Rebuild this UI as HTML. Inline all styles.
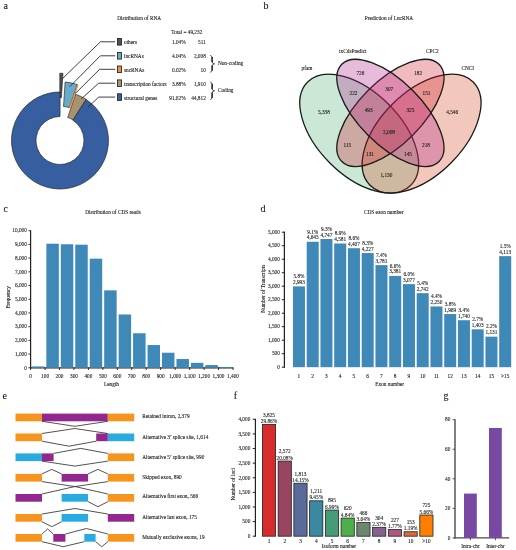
<!DOCTYPE html>
<html><head><meta charset="utf-8"><style>
html,body{margin:0;padding:0;background:#fff;}
svg{display:block;filter:blur(0.2px);}
text{font-family:"Liberation Serif", serif; fill:#1a1a1a; stroke:#1a1a1a; stroke-width:0.1px;}
</style></head><body>
<svg width="516" height="550" viewBox="0 0 516 550">
<rect width="516" height="550" fill="#fff"/>
<text x="3.50" y="8.70" font-size="10" text-anchor="start" >a</text>
<text x="117.30" y="20.25" font-size="5.3" text-anchor="start" >Distribution of RNA</text>
<text x="171.30" y="34.35" font-size="5.3" text-anchor="start" >Total = 49,232</text>
<path d="M59.81,73.21 A48.5,48.5 0 0 1 62.97,73.31 L61.38,97.76 A24.0,24.0 0 0 0 59.81,97.71 Z" fill="#4d5158" stroke="#222" stroke-width="0.65" />
<path d="M65.12,82.09 A48.5,48.5 0 0 1 77.28,84.47 L69.54,107.72 A24.0,24.0 0 0 0 63.52,106.54 Z" fill="#68aac8" stroke="#222" stroke-width="0.65" />
<path d="M75.51,94.23 A48.5,48.5 0 0 1 86.16,99.31 L73.01,119.98 A24.0,24.0 0 0 0 67.74,117.47 Z" fill="#a8926f" stroke="#222" stroke-width="0.65" />
<path d="M86.03,99.58 A48.5,48.5 0 1 1 60.12,92.00 L60.06,116.50 A24.0,24.0 0 1 0 72.88,120.25 Z" fill="#375f9f" stroke="#222" stroke-width="0.65" />
<line x1="78.07" y1="84.53" x2="69.83" y2="108.03" stroke="#f08a3c" stroke-width="1.3"/>
<line x1="100.40" y1="41.80" x2="115.20" y2="41.80" stroke="#2a2a2a" stroke-width="0.9"/>
<line x1="100.40" y1="41.80" x2="62.00" y2="79.10" stroke="#2a2a2a" stroke-width="0.9"/>
<rect x="117.50" y="38.50" width="4.00" height="6.60" fill="#4d5158" stroke="#222" stroke-width="0.85"/>
<line x1="100.40" y1="55.80" x2="115.20" y2="55.80" stroke="#2a2a2a" stroke-width="0.9"/>
<line x1="100.40" y1="55.80" x2="69.80" y2="86.60" stroke="#2a2a2a" stroke-width="0.9"/>
<rect x="117.50" y="52.50" width="4.00" height="6.60" fill="#68aac8" stroke="#222" stroke-width="0.85"/>
<line x1="99.60" y1="69.30" x2="115.20" y2="69.30" stroke="#2a2a2a" stroke-width="0.9"/>
<line x1="99.60" y1="69.30" x2="75.20" y2="93.60" stroke="#2a2a2a" stroke-width="0.9"/>
<rect x="117.50" y="66.00" width="4.00" height="6.60" fill="#f08a3c" stroke="#222" stroke-width="0.85"/>
<line x1="98.70" y1="83.20" x2="115.20" y2="83.20" stroke="#2a2a2a" stroke-width="0.9"/>
<line x1="98.70" y1="83.20" x2="81.40" y2="98.80" stroke="#2a2a2a" stroke-width="0.9"/>
<rect x="117.50" y="79.90" width="4.00" height="6.60" fill="#a8926f" stroke="#222" stroke-width="0.85"/>
<line x1="98.70" y1="97.10" x2="115.20" y2="97.10" stroke="#2a2a2a" stroke-width="0.9"/>
<line x1="98.70" y1="97.10" x2="88.20" y2="107.00" stroke="#2a2a2a" stroke-width="0.9"/>
<rect x="117.50" y="93.80" width="4.00" height="6.60" fill="#375f9f" stroke="#222" stroke-width="0.85"/>
<text x="124.00" y="44.35" font-size="5.3" text-anchor="start" >others</text>
<text x="185.60" y="44.25" font-size="5.3" text-anchor="end" >1.04%</text>
<text x="205.80" y="44.25" font-size="5.3" text-anchor="end" >511</text>
<text x="124.00" y="58.35" font-size="5.3" text-anchor="start" >lncRNAs</text>
<text x="185.60" y="58.25" font-size="5.3" text-anchor="end" >4.04%</text>
<text x="205.80" y="58.25" font-size="5.3" text-anchor="end" >2,008</text>
<text x="124.00" y="71.85" font-size="5.3" text-anchor="start" >sncRNAs</text>
<text x="185.60" y="71.75" font-size="5.3" text-anchor="end" >0.02%</text>
<text x="205.80" y="71.75" font-size="5.3" text-anchor="end" >10</text>
<text x="124.00" y="85.75" font-size="5.3" text-anchor="start" >transcription factors</text>
<text x="185.60" y="85.65" font-size="5.3" text-anchor="end" >3.88%</text>
<text x="205.80" y="85.65" font-size="5.3" text-anchor="end" >1,910</text>
<text x="124.00" y="99.65" font-size="5.3" text-anchor="start" >structural genes</text>
<text x="185.60" y="99.55" font-size="5.3" text-anchor="end" >91.02%</text>
<text x="205.80" y="99.55" font-size="5.3" text-anchor="end" >44,812</text>
<path d="M210.20,55.40 Q212.10,55.40 212.10,58.00 L212.10,61.65 Q212.10,63.65 214.60,63.85 Q212.10,64.05 212.10,66.05 L212.10,69.70 Q212.10,72.30 210.20,72.30" fill="none" stroke="#1a1a1a" stroke-width="0.7" />
<path d="M212.10,57.00 L212.10,62.25 M212.10,65.45 L212.10,70.70" fill="none" stroke="#1a1a1a" stroke-width="1.3" />
<path d="M210.20,82.10 Q212.10,82.10 212.10,84.70 L212.10,88.65 Q212.10,90.65 214.60,90.85 Q212.10,91.05 212.10,93.05 L212.10,97.00 Q212.10,99.60 210.20,99.60" fill="none" stroke="#1a1a1a" stroke-width="0.7" />
<path d="M212.10,83.70 L212.10,89.25 M212.10,92.45 L212.10,98.00" fill="none" stroke="#1a1a1a" stroke-width="1.3" />
<text x="217.90" y="65.35" font-size="5.3" text-anchor="start" >Non-coding</text>
<text x="217.90" y="92.15" font-size="5.3" text-anchor="start" >Coding</text>
<text x="263.40" y="8.50" font-size="10" text-anchor="start" >b</text>
<text x="389.00" y="19.55" font-size="5.3" text-anchor="middle" >Prediction of LncRNA</text>
<ellipse cx="359.20" cy="133.60" rx="72.95" ry="41.50" transform="rotate(45 359.20 133.60)" fill="rgb(80,177,120)" fill-opacity="0.297" stroke="#1a1a1a" stroke-width="1.3"/>
<ellipse cx="421.60" cy="133.60" rx="72.95" ry="41.50" transform="rotate(-45 421.60 133.60)" fill="rgb(216,71,30)" fill-opacity="0.297" stroke="#1a1a1a" stroke-width="1.3"/>
<ellipse cx="390.40" cy="112.90" rx="68.75" ry="31.60" transform="rotate(-45 390.40 112.90)" fill="rgb(208,25,41)" fill-opacity="0.297" stroke="#1a1a1a" stroke-width="1.3"/>
<ellipse cx="390.40" cy="112.90" rx="68.75" ry="31.60" transform="rotate(45 390.40 112.90)" fill="rgb(173,29,135)" fill-opacity="0.297" stroke="#1a1a1a" stroke-width="1.3"/>
<text x="307.00" y="69.95" font-size="5.3" text-anchor="middle" >pfam</text>
<text x="352.80" y="52.95" font-size="5.3" text-anchor="middle" >txCdsPredict</text>
<text x="432.40" y="52.95" font-size="5.3" text-anchor="middle" >CPC2</text>
<text x="467.80" y="69.95" font-size="5.3" text-anchor="middle" >CNCI</text>
<text x="360.40" y="75.10" font-size="5.3" text-anchor="middle" >726</text>
<text x="418.20" y="75.10" font-size="5.3" text-anchor="middle" >182</text>
<text x="353.50" y="95.20" font-size="5.3" text-anchor="middle" >222</text>
<text x="389.30" y="91.20" font-size="5.3" text-anchor="middle" >307</text>
<text x="426.50" y="95.20" font-size="5.3" text-anchor="middle" >151</text>
<text x="323.90" y="114.20" font-size="5.3" text-anchor="middle" >5,338</text>
<text x="368.70" y="112.20" font-size="5.3" text-anchor="middle" >493</text>
<text x="410.40" y="112.20" font-size="5.3" text-anchor="middle" >325</text>
<text x="452.20" y="114.20" font-size="5.3" text-anchor="middle" >4,546</text>
<text x="389.00" y="134.30" font-size="5.3" text-anchor="middle" >2,008</text>
<text x="347.40" y="146.90" font-size="5.3" text-anchor="middle" >115</text>
<text x="426.00" y="146.90" font-size="5.3" text-anchor="middle" >218</text>
<text x="370.00" y="155.90" font-size="5.3" text-anchor="middle" >131</text>
<text x="408.00" y="155.90" font-size="5.3" text-anchor="middle" >145</text>
<text x="386.40" y="176.70" font-size="5.3" text-anchor="middle" >1,130</text>
<text x="3.60" y="211.80" font-size="10" text-anchor="start" >c</text>
<text x="113.00" y="213.95" font-size="5.3" text-anchor="middle" >Distribution of CDS reads</text>
<line x1="30.60" y1="230.20" x2="30.60" y2="368.40" stroke="#222" stroke-width="1.2"/>
<line x1="30.00" y1="367.80" x2="233.40" y2="367.80" stroke="#222" stroke-width="1.2"/>
<line x1="28.40" y1="367.80" x2="30.60" y2="367.80" stroke="#222" stroke-width="0.9"/>
<text x="26.90" y="369.55" font-size="5.3" text-anchor="end" >0</text>
<line x1="28.40" y1="354.09" x2="30.60" y2="354.09" stroke="#222" stroke-width="0.9"/>
<text x="26.90" y="355.84" font-size="5.3" text-anchor="end" >1,000</text>
<line x1="28.40" y1="340.38" x2="30.60" y2="340.38" stroke="#222" stroke-width="0.9"/>
<text x="26.90" y="342.13" font-size="5.3" text-anchor="end" >2,000</text>
<line x1="28.40" y1="326.67" x2="30.60" y2="326.67" stroke="#222" stroke-width="0.9"/>
<text x="26.90" y="328.42" font-size="5.3" text-anchor="end" >3,000</text>
<line x1="28.40" y1="312.96" x2="30.60" y2="312.96" stroke="#222" stroke-width="0.9"/>
<text x="26.90" y="314.71" font-size="5.3" text-anchor="end" >4,000</text>
<line x1="28.40" y1="299.25" x2="30.60" y2="299.25" stroke="#222" stroke-width="0.9"/>
<text x="26.90" y="301.00" font-size="5.3" text-anchor="end" >5,000</text>
<line x1="28.40" y1="285.54" x2="30.60" y2="285.54" stroke="#222" stroke-width="0.9"/>
<text x="26.90" y="287.29" font-size="5.3" text-anchor="end" >6,000</text>
<line x1="28.40" y1="271.83" x2="30.60" y2="271.83" stroke="#222" stroke-width="0.9"/>
<text x="26.90" y="273.58" font-size="5.3" text-anchor="end" >7,000</text>
<line x1="28.40" y1="258.12" x2="30.60" y2="258.12" stroke="#222" stroke-width="0.9"/>
<text x="26.90" y="259.87" font-size="5.3" text-anchor="end" >8,000</text>
<line x1="28.40" y1="244.41" x2="30.60" y2="244.41" stroke="#222" stroke-width="0.9"/>
<text x="26.90" y="246.16" font-size="5.3" text-anchor="end" >9,000</text>
<line x1="28.40" y1="230.70" x2="30.60" y2="230.70" stroke="#222" stroke-width="0.9"/>
<text x="26.90" y="232.45" font-size="5.3" text-anchor="end" >10,000</text>
<line x1="30.60" y1="367.80" x2="30.60" y2="370.00" stroke="#222" stroke-width="0.9"/>
<text x="30.60" y="377.95" font-size="5.3" text-anchor="middle" >0</text>
<line x1="45.06" y1="367.80" x2="45.06" y2="370.00" stroke="#222" stroke-width="0.9"/>
<text x="45.06" y="377.95" font-size="5.3" text-anchor="middle" >100</text>
<line x1="59.51" y1="367.80" x2="59.51" y2="370.00" stroke="#222" stroke-width="0.9"/>
<text x="59.51" y="377.95" font-size="5.3" text-anchor="middle" >200</text>
<line x1="73.97" y1="367.80" x2="73.97" y2="370.00" stroke="#222" stroke-width="0.9"/>
<text x="73.97" y="377.95" font-size="5.3" text-anchor="middle" >300</text>
<line x1="88.43" y1="367.80" x2="88.43" y2="370.00" stroke="#222" stroke-width="0.9"/>
<text x="88.43" y="377.95" font-size="5.3" text-anchor="middle" >400</text>
<line x1="102.88" y1="367.80" x2="102.88" y2="370.00" stroke="#222" stroke-width="0.9"/>
<text x="102.88" y="377.95" font-size="5.3" text-anchor="middle" >500</text>
<line x1="117.34" y1="367.80" x2="117.34" y2="370.00" stroke="#222" stroke-width="0.9"/>
<text x="117.34" y="377.95" font-size="5.3" text-anchor="middle" >600</text>
<line x1="131.80" y1="367.80" x2="131.80" y2="370.00" stroke="#222" stroke-width="0.9"/>
<text x="131.80" y="377.95" font-size="5.3" text-anchor="middle" >700</text>
<line x1="146.26" y1="367.80" x2="146.26" y2="370.00" stroke="#222" stroke-width="0.9"/>
<text x="146.26" y="377.95" font-size="5.3" text-anchor="middle" >800</text>
<line x1="160.71" y1="367.80" x2="160.71" y2="370.00" stroke="#222" stroke-width="0.9"/>
<text x="160.71" y="377.95" font-size="5.3" text-anchor="middle" >900</text>
<line x1="175.17" y1="367.80" x2="175.17" y2="370.00" stroke="#222" stroke-width="0.9"/>
<text x="175.17" y="377.95" font-size="5.3" text-anchor="middle" >1,000</text>
<line x1="189.63" y1="367.80" x2="189.63" y2="370.00" stroke="#222" stroke-width="0.9"/>
<text x="189.63" y="377.95" font-size="5.3" text-anchor="middle" >1,100</text>
<line x1="204.08" y1="367.80" x2="204.08" y2="370.00" stroke="#222" stroke-width="0.9"/>
<text x="204.08" y="377.95" font-size="5.3" text-anchor="middle" >1,200</text>
<line x1="218.54" y1="367.80" x2="218.54" y2="370.00" stroke="#222" stroke-width="0.9"/>
<text x="218.54" y="377.95" font-size="5.3" text-anchor="middle" >1,300</text>
<line x1="233.00" y1="367.80" x2="233.00" y2="370.00" stroke="#222" stroke-width="0.9"/>
<text x="233.00" y="377.95" font-size="5.3" text-anchor="middle" >1,400</text>
<text x="111.50" y="386.35" font-size="5.3" text-anchor="middle" >Length</text>
<text transform="translate(10.4,297.2) rotate(-90)" font-size="5.3" text-anchor="middle">Frequency</text>
<rect x="31.90" y="366.43" width="12.46" height="1.37" fill="#3f89b8"/>
<rect x="46.36" y="243.72" width="12.46" height="124.08" fill="#3f89b8"/>
<rect x="60.81" y="244.27" width="12.46" height="123.53" fill="#3f89b8"/>
<rect x="75.27" y="244.68" width="12.46" height="123.12" fill="#3f89b8"/>
<rect x="89.73" y="258.67" width="12.46" height="109.13" fill="#3f89b8"/>
<rect x="104.18" y="290.34" width="12.46" height="77.46" fill="#3f89b8"/>
<rect x="118.64" y="314.47" width="12.46" height="53.33" fill="#3f89b8"/>
<rect x="133.10" y="333.25" width="12.46" height="34.55" fill="#3f89b8"/>
<rect x="147.56" y="345.04" width="12.46" height="22.76" fill="#3f89b8"/>
<rect x="162.01" y="352.72" width="12.46" height="15.08" fill="#3f89b8"/>
<rect x="176.47" y="359.03" width="12.46" height="8.77" fill="#3f89b8"/>
<rect x="190.93" y="362.86" width="12.46" height="4.94" fill="#3f89b8"/>
<rect x="205.38" y="365.06" width="12.46" height="2.74" fill="#3f89b8"/>
<rect x="219.84" y="366.98" width="12.46" height="0.82" fill="#3f89b8"/>
<text x="260.50" y="211.60" font-size="10" text-anchor="start" >d</text>
<text x="383.70" y="213.85" font-size="5.3" text-anchor="middle" >CDS exon number</text>
<line x1="284.40" y1="231.60" x2="284.40" y2="367.80" stroke="#222" stroke-width="1.25"/>
<line x1="281.80" y1="367.20" x2="284.40" y2="367.20" stroke="#222" stroke-width="1.0"/>
<text x="279.90" y="368.95" font-size="5.3" text-anchor="end" >0</text>
<line x1="281.80" y1="353.70" x2="284.40" y2="353.70" stroke="#222" stroke-width="1.0"/>
<text x="279.90" y="355.45" font-size="5.3" text-anchor="end" >500</text>
<line x1="281.80" y1="340.20" x2="284.40" y2="340.20" stroke="#222" stroke-width="1.0"/>
<text x="279.90" y="341.95" font-size="5.3" text-anchor="end" >1,000</text>
<line x1="281.80" y1="326.70" x2="284.40" y2="326.70" stroke="#222" stroke-width="1.0"/>
<text x="279.90" y="328.45" font-size="5.3" text-anchor="end" >1,500</text>
<line x1="281.80" y1="313.20" x2="284.40" y2="313.20" stroke="#222" stroke-width="1.0"/>
<text x="279.90" y="314.95" font-size="5.3" text-anchor="end" >2,000</text>
<line x1="281.80" y1="299.70" x2="284.40" y2="299.70" stroke="#222" stroke-width="1.0"/>
<text x="279.90" y="301.45" font-size="5.3" text-anchor="end" >2,500</text>
<line x1="281.80" y1="286.20" x2="284.40" y2="286.20" stroke="#222" stroke-width="1.0"/>
<text x="279.90" y="287.95" font-size="5.3" text-anchor="end" >3,000</text>
<line x1="281.80" y1="272.70" x2="284.40" y2="272.70" stroke="#222" stroke-width="1.0"/>
<text x="279.90" y="274.45" font-size="5.3" text-anchor="end" >3,500</text>
<line x1="281.80" y1="259.20" x2="284.40" y2="259.20" stroke="#222" stroke-width="1.0"/>
<text x="279.90" y="260.95" font-size="5.3" text-anchor="end" >4,000</text>
<line x1="281.80" y1="245.70" x2="284.40" y2="245.70" stroke="#222" stroke-width="1.0"/>
<text x="279.90" y="247.45" font-size="5.3" text-anchor="end" >4,500</text>
<line x1="281.80" y1="232.20" x2="284.40" y2="232.20" stroke="#222" stroke-width="1.0"/>
<text x="279.90" y="233.95" font-size="5.3" text-anchor="end" >5,000</text>
<text transform="translate(265.0,288.7) rotate(-90)" font-size="5.3" text-anchor="middle">Number of Transcripts</text>
<rect x="292.95" y="286.39" width="12.00" height="80.81" fill="#3f89b8"/>
<text x="298.95" y="378.05" font-size="5.3" text-anchor="middle" >1</text>
<text x="298.95" y="283.94" font-size="5.3" text-anchor="middle" >2,993</text>
<text x="298.95" y="278.14" font-size="5.3" text-anchor="middle" >5.8%</text>
<rect x="306.70" y="241.78" width="12.00" height="125.41" fill="#3f89b8"/>
<text x="312.70" y="378.05" font-size="5.3" text-anchor="middle" >2</text>
<text x="312.70" y="239.33" font-size="5.3" text-anchor="middle" >4,645</text>
<text x="312.70" y="233.53" font-size="5.3" text-anchor="middle" >9.1%</text>
<rect x="320.45" y="239.03" width="12.00" height="128.17" fill="#3f89b8"/>
<text x="326.45" y="378.05" font-size="5.3" text-anchor="middle" >3</text>
<text x="326.45" y="236.58" font-size="5.3" text-anchor="middle" >4,747</text>
<text x="326.45" y="230.78" font-size="5.3" text-anchor="middle" >9.3%</text>
<rect x="334.20" y="243.51" width="12.00" height="123.69" fill="#3f89b8"/>
<text x="340.20" y="378.05" font-size="5.3" text-anchor="middle" >4</text>
<text x="340.20" y="241.06" font-size="5.3" text-anchor="middle" >4,581</text>
<text x="340.20" y="235.26" font-size="5.3" text-anchor="middle" >8.9%</text>
<rect x="347.95" y="248.21" width="12.00" height="118.99" fill="#3f89b8"/>
<text x="353.95" y="378.05" font-size="5.3" text-anchor="middle" >5</text>
<text x="353.95" y="245.76" font-size="5.3" text-anchor="middle" >4,407</text>
<text x="353.95" y="239.96" font-size="5.3" text-anchor="middle" >8.6%</text>
<rect x="361.70" y="253.07" width="12.00" height="114.13" fill="#3f89b8"/>
<text x="367.70" y="378.05" font-size="5.3" text-anchor="middle" >6</text>
<text x="367.70" y="250.62" font-size="5.3" text-anchor="middle" >4,227</text>
<text x="367.70" y="244.82" font-size="5.3" text-anchor="middle" >8.3%</text>
<rect x="375.45" y="265.11" width="12.00" height="102.09" fill="#3f89b8"/>
<text x="381.45" y="378.05" font-size="5.3" text-anchor="middle" >7</text>
<text x="381.45" y="262.66" font-size="5.3" text-anchor="middle" >3,781</text>
<text x="381.45" y="256.86" font-size="5.3" text-anchor="middle" >7.4%</text>
<rect x="389.20" y="275.91" width="12.00" height="91.29" fill="#3f89b8"/>
<text x="395.20" y="378.05" font-size="5.3" text-anchor="middle" >8</text>
<text x="395.20" y="273.46" font-size="5.3" text-anchor="middle" >3,381</text>
<text x="395.20" y="267.66" font-size="5.3" text-anchor="middle" >6.6%</text>
<rect x="402.95" y="284.12" width="12.00" height="83.08" fill="#3f89b8"/>
<text x="408.95" y="378.05" font-size="5.3" text-anchor="middle" >9</text>
<text x="408.95" y="281.67" font-size="5.3" text-anchor="middle" >3,077</text>
<text x="408.95" y="275.87" font-size="5.3" text-anchor="middle" >6.0%</text>
<rect x="416.70" y="293.17" width="12.00" height="74.03" fill="#3f89b8"/>
<text x="422.70" y="378.05" font-size="5.3" text-anchor="middle" >10</text>
<text x="422.70" y="290.72" font-size="5.3" text-anchor="middle" >2,742</text>
<text x="422.70" y="284.92" font-size="5.3" text-anchor="middle" >5.4%</text>
<rect x="430.45" y="306.45" width="12.00" height="60.75" fill="#3f89b8"/>
<text x="436.45" y="378.05" font-size="5.3" text-anchor="middle" >11</text>
<text x="436.45" y="304.00" font-size="5.3" text-anchor="middle" >2,250</text>
<text x="436.45" y="298.20" font-size="5.3" text-anchor="middle" >4.4%</text>
<rect x="444.20" y="314.04" width="12.00" height="53.16" fill="#3f89b8"/>
<text x="450.20" y="378.05" font-size="5.3" text-anchor="middle" >12</text>
<text x="450.20" y="311.59" font-size="5.3" text-anchor="middle" >1,969</text>
<text x="450.20" y="305.79" font-size="5.3" text-anchor="middle" >3.8%</text>
<rect x="457.95" y="320.22" width="12.00" height="46.98" fill="#3f89b8"/>
<text x="463.95" y="378.05" font-size="5.3" text-anchor="middle" >13</text>
<text x="463.95" y="317.77" font-size="5.3" text-anchor="middle" >1,740</text>
<text x="463.95" y="311.97" font-size="5.3" text-anchor="middle" >3.4%</text>
<rect x="471.70" y="329.32" width="12.00" height="37.88" fill="#3f89b8"/>
<text x="477.70" y="378.05" font-size="5.3" text-anchor="middle" >14</text>
<text x="477.70" y="326.87" font-size="5.3" text-anchor="middle" >1,403</text>
<text x="477.70" y="321.07" font-size="5.3" text-anchor="middle" >2.7%</text>
<rect x="485.45" y="336.66" width="12.00" height="30.54" fill="#3f89b8"/>
<text x="491.45" y="378.05" font-size="5.3" text-anchor="middle" >15</text>
<text x="491.45" y="334.21" font-size="5.3" text-anchor="middle" >1,131</text>
<text x="491.45" y="328.41" font-size="5.3" text-anchor="middle" >2.2%</text>
<rect x="499.20" y="256.15" width="12.00" height="111.05" fill="#3f89b8"/>
<text x="505.20" y="378.05" font-size="5.3" text-anchor="middle" >&gt;15</text>
<text x="505.20" y="253.70" font-size="5.3" text-anchor="middle" >4,113</text>
<text x="505.20" y="247.90" font-size="5.3" text-anchor="middle" >1.5%</text>
<text x="389.60" y="385.75" font-size="5.3" text-anchor="middle" >Exon number</text>
<text x="2.40" y="398.80" font-size="10" text-anchor="start" >e</text>
<rect x="15.50" y="413.60" width="26.50" height="7.70" fill="#f7941d"/>
<rect x="42.00" y="413.60" width="65.80" height="7.70" fill="#92278f"/>
<rect x="107.80" y="413.60" width="26.40" height="7.70" fill="#f7941d"/>
<path d="M42.00,421.30 L74.90,426.30 L107.80,421.30" fill="none" stroke="#333" stroke-width="0.85" />
<rect x="15.50" y="433.50" width="26.50" height="7.70" fill="#f7941d"/>
<rect x="96.20" y="433.50" width="11.60" height="7.70" fill="#92278f"/>
<rect x="107.80" y="433.50" width="26.40" height="7.70" fill="#29abe2"/>
<path d="M42.00,433.50 L74.90,428.50 L107.80,433.50" fill="none" stroke="#333" stroke-width="0.85" />
<path d="M42.00,441.20 L69.10,446.20 L96.20,441.20" fill="none" stroke="#333" stroke-width="0.85" />
<rect x="15.50" y="453.40" width="26.50" height="7.70" fill="#29abe2"/>
<rect x="42.00" y="453.40" width="11.60" height="7.70" fill="#92278f"/>
<rect x="107.80" y="453.40" width="26.40" height="7.70" fill="#f7941d"/>
<path d="M53.60,453.40 L80.70,448.40 L107.80,453.40" fill="none" stroke="#333" stroke-width="0.85" />
<path d="M42.00,461.10 L74.90,466.10 L107.80,461.10" fill="none" stroke="#333" stroke-width="0.85" />
<rect x="15.50" y="473.90" width="26.50" height="7.70" fill="#f7941d"/>
<rect x="61.60" y="473.90" width="26.50" height="7.70" fill="#92278f"/>
<rect x="107.80" y="473.90" width="26.40" height="7.70" fill="#f7941d"/>
<path d="M42.00,473.90 L51.80,469.40 L61.60,473.90" fill="none" stroke="#333" stroke-width="0.85" />
<path d="M88.10,473.90 L97.95,469.40 L107.80,473.90" fill="none" stroke="#333" stroke-width="0.85" />
<path d="M42.00,481.60 L74.90,486.60 L107.80,481.60" fill="none" stroke="#333" stroke-width="0.85" />
<rect x="15.50" y="494.00" width="26.50" height="7.70" fill="#92278f"/>
<rect x="61.60" y="494.00" width="26.50" height="7.70" fill="#29abe2"/>
<rect x="107.80" y="494.00" width="26.40" height="7.70" fill="#f7941d"/>
<path d="M42.00,494.00 L74.90,486.50 L107.80,494.00" fill="none" stroke="#333" stroke-width="0.85" />
<path d="M88.10,501.70 L97.95,506.70 L107.80,501.70" fill="none" stroke="#333" stroke-width="0.85" />
<rect x="15.50" y="514.00" width="26.50" height="7.70" fill="#f7941d"/>
<rect x="61.60" y="514.00" width="26.50" height="7.70" fill="#29abe2"/>
<rect x="107.80" y="514.00" width="26.40" height="7.70" fill="#92278f"/>
<path d="M42.00,514.00 L74.90,508.50 L107.80,514.00" fill="none" stroke="#333" stroke-width="0.85" />
<path d="M42.00,521.70 L51.80,526.70 L61.60,521.70" fill="none" stroke="#333" stroke-width="0.85" />
<rect x="15.50" y="534.00" width="26.50" height="7.70" fill="#f7941d"/>
<rect x="53.30" y="534.00" width="12.10" height="7.70" fill="#92278f"/>
<rect x="84.30" y="534.00" width="11.30" height="7.70" fill="#29abe2"/>
<rect x="107.80" y="534.00" width="26.40" height="7.70" fill="#f7941d"/>
<path d="M42.00,534.00 L47.65,529.00 L53.30,534.00" fill="none" stroke="#333" stroke-width="0.85" />
<path d="M65.40,534.00 L86.50,528.50 L107.80,534.00" fill="none" stroke="#333" stroke-width="0.85" />
<path d="M42.00,541.70 L63.15,546.70 L84.30,541.70" fill="none" stroke="#333" stroke-width="0.85" />
<path d="M95.60,541.70 L101.70,546.70 L107.80,541.70" fill="none" stroke="#333" stroke-width="0.85" />
<text x="142.20" y="417.75" font-size="5.3" text-anchor="start" >Retained intron, 2,379</text>
<text x="142.20" y="439.15" font-size="5.3" text-anchor="start" >Alternative 3’ splice site, 1,614</text>
<text x="142.20" y="458.75" font-size="5.3" text-anchor="start" >Alternative 5’ splice site, 990</text>
<text x="142.20" y="478.75" font-size="5.3" text-anchor="start" >Skipped exon, 890</text>
<text x="142.20" y="498.45" font-size="5.3" text-anchor="start" >Alternative first exon, 566</text>
<text x="142.20" y="518.95" font-size="5.3" text-anchor="start" >Alternative last exon, 175</text>
<text x="142.20" y="538.95" font-size="5.3" text-anchor="start" >Mutually exclusive exons, 19</text>
<text x="233.80" y="398.70" font-size="10" text-anchor="start" >f</text>
<line x1="255.40" y1="418.80" x2="255.40" y2="536.80" stroke="#222" stroke-width="1.2"/>
<line x1="252.80" y1="536.20" x2="255.40" y2="536.20" stroke="#222" stroke-width="1.0"/>
<text x="250.30" y="537.95" font-size="5.3" text-anchor="end" >0</text>
<line x1="252.80" y1="521.59" x2="255.40" y2="521.59" stroke="#222" stroke-width="1.0"/>
<text x="250.30" y="523.34" font-size="5.3" text-anchor="end" >500</text>
<line x1="252.80" y1="506.98" x2="255.40" y2="506.98" stroke="#222" stroke-width="1.0"/>
<text x="250.30" y="508.72" font-size="5.3" text-anchor="end" >1,000</text>
<line x1="252.80" y1="492.36" x2="255.40" y2="492.36" stroke="#222" stroke-width="1.0"/>
<text x="250.30" y="494.11" font-size="5.3" text-anchor="end" >1,500</text>
<line x1="252.80" y1="477.75" x2="255.40" y2="477.75" stroke="#222" stroke-width="1.0"/>
<text x="250.30" y="479.50" font-size="5.3" text-anchor="end" >2,000</text>
<line x1="252.80" y1="463.14" x2="255.40" y2="463.14" stroke="#222" stroke-width="1.0"/>
<text x="250.30" y="464.89" font-size="5.3" text-anchor="end" >2,500</text>
<line x1="252.80" y1="448.53" x2="255.40" y2="448.53" stroke="#222" stroke-width="1.0"/>
<text x="250.30" y="450.27" font-size="5.3" text-anchor="end" >3,000</text>
<line x1="252.80" y1="433.91" x2="255.40" y2="433.91" stroke="#222" stroke-width="1.0"/>
<text x="250.30" y="435.66" font-size="5.3" text-anchor="end" >3,500</text>
<line x1="252.80" y1="419.30" x2="255.40" y2="419.30" stroke="#222" stroke-width="1.0"/>
<text x="250.30" y="421.05" font-size="5.3" text-anchor="end" >4,000</text>
<text transform="translate(234.8,484.3) rotate(-90)" font-size="5.3" text-anchor="middle">Number of loci</text>
<rect x="262.40" y="424.41" width="13.20" height="111.79" fill="#D82C2C" stroke="#222" stroke-width="0.8"/>
<text x="269.00" y="542.65" font-size="5.3" text-anchor="middle" >1</text>
<text x="269.00" y="416.76" font-size="5.3" text-anchor="middle" >3,825</text>
<text x="269.00" y="422.96" font-size="5.3" text-anchor="middle" >29.86%</text>
<rect x="278.14" y="461.03" width="13.20" height="75.17" fill="#9A4560" stroke="#222" stroke-width="0.8"/>
<text x="284.74" y="542.65" font-size="5.3" text-anchor="middle" >2</text>
<text x="284.74" y="453.38" font-size="5.3" text-anchor="middle" >2,572</text>
<text x="284.74" y="459.58" font-size="5.3" text-anchor="middle" >20.08%</text>
<rect x="293.88" y="483.22" width="13.20" height="52.98" fill="#5A6A99" stroke="#222" stroke-width="0.8"/>
<text x="300.48" y="542.65" font-size="5.3" text-anchor="middle" >3</text>
<text x="300.48" y="475.56" font-size="5.3" text-anchor="middle" >1,813</text>
<text x="300.48" y="481.76" font-size="5.3" text-anchor="middle" >14.15%</text>
<rect x="309.62" y="500.81" width="13.20" height="35.39" fill="#3B88A2" stroke="#222" stroke-width="0.8"/>
<text x="316.22" y="542.65" font-size="5.3" text-anchor="middle" >4</text>
<text x="316.22" y="493.16" font-size="5.3" text-anchor="middle" >1,211</text>
<text x="316.22" y="499.36" font-size="5.3" text-anchor="middle" >9.45%</text>
<rect x="325.36" y="510.04" width="13.20" height="26.16" fill="#449B76" stroke="#222" stroke-width="0.8"/>
<text x="331.96" y="542.65" font-size="5.3" text-anchor="middle" >5</text>
<text x="331.96" y="502.39" font-size="5.3" text-anchor="middle" >895</text>
<text x="331.96" y="508.59" font-size="5.3" text-anchor="middle" >6.99%</text>
<rect x="341.10" y="518.08" width="13.20" height="18.12" fill="#4DAF4A" stroke="#222" stroke-width="0.8"/>
<text x="347.70" y="542.65" font-size="5.3" text-anchor="middle" >6</text>
<text x="347.70" y="510.43" font-size="5.3" text-anchor="middle" >620</text>
<text x="347.70" y="516.63" font-size="5.3" text-anchor="middle" >4.84%</text>
<rect x="356.84" y="522.58" width="13.20" height="13.62" fill="#6B886E" stroke="#222" stroke-width="0.8"/>
<text x="363.44" y="542.65" font-size="5.3" text-anchor="middle" >7</text>
<text x="363.44" y="514.93" font-size="5.3" text-anchor="middle" >466</text>
<text x="363.44" y="521.13" font-size="5.3" text-anchor="middle" >3.64%</text>
<rect x="372.58" y="527.32" width="13.20" height="8.88" fill="#896191" stroke="#222" stroke-width="0.8"/>
<text x="379.18" y="542.65" font-size="5.3" text-anchor="middle" >8</text>
<text x="379.18" y="519.66" font-size="5.3" text-anchor="middle" >304</text>
<text x="379.18" y="525.86" font-size="5.3" text-anchor="middle" >2.37%</text>
<rect x="388.32" y="529.57" width="13.20" height="6.63" fill="#AD5882" stroke="#222" stroke-width="0.8"/>
<text x="394.92" y="542.65" font-size="5.3" text-anchor="middle" >9</text>
<text x="394.92" y="521.91" font-size="5.3" text-anchor="middle" >227</text>
<text x="394.92" y="528.11" font-size="5.3" text-anchor="middle" >1.77%</text>
<rect x="404.06" y="531.73" width="13.20" height="4.47" fill="#D66B41" stroke="#222" stroke-width="0.8"/>
<text x="410.66" y="542.65" font-size="5.3" text-anchor="middle" >10</text>
<text x="410.66" y="524.08" font-size="5.3" text-anchor="middle" >153</text>
<text x="410.66" y="530.28" font-size="5.3" text-anchor="middle" >1.19%</text>
<rect x="419.80" y="515.01" width="13.20" height="21.19" fill="#FF7F00" stroke="#222" stroke-width="0.8"/>
<text x="426.40" y="542.65" font-size="5.3" text-anchor="middle" >&gt;10</text>
<text x="426.40" y="507.36" font-size="5.3" text-anchor="middle" >725</text>
<text x="426.40" y="513.56" font-size="5.3" text-anchor="middle" >5.66%</text>
<text x="339.00" y="547.55" font-size="5.3" text-anchor="middle" >Isoform number</text>
<text x="443.60" y="399.20" font-size="10" text-anchor="start" >g</text>
<line x1="455.00" y1="419.20" x2="455.00" y2="538.60" stroke="#4a4a4a" stroke-width="1.4"/>
<line x1="454.30" y1="537.90" x2="509.20" y2="537.90" stroke="#4a4a4a" stroke-width="1.4"/>
<line x1="452.60" y1="537.90" x2="455.00" y2="537.90" stroke="#444" stroke-width="0.9"/>
<text x="450.40" y="539.65" font-size="5.3" text-anchor="end" >0</text>
<line x1="452.60" y1="508.35" x2="455.00" y2="508.35" stroke="#444" stroke-width="0.9"/>
<text x="450.40" y="510.10" font-size="5.3" text-anchor="end" >20</text>
<line x1="452.60" y1="478.80" x2="455.00" y2="478.80" stroke="#444" stroke-width="0.9"/>
<text x="450.40" y="480.55" font-size="5.3" text-anchor="end" >40</text>
<line x1="452.60" y1="449.25" x2="455.00" y2="449.25" stroke="#444" stroke-width="0.9"/>
<text x="450.40" y="451.00" font-size="5.3" text-anchor="end" >60</text>
<line x1="452.60" y1="419.70" x2="455.00" y2="419.70" stroke="#444" stroke-width="0.9"/>
<text x="450.40" y="421.45" font-size="5.3" text-anchor="end" >80</text>
<rect x="464.00" y="493.57" width="12.80" height="44.32" fill="#7849a2"/>
<line x1="470.40" y1="537.90" x2="470.40" y2="540.30" stroke="#444" stroke-width="0.9"/>
<text x="470.40" y="547.95" font-size="5.3" text-anchor="middle" >Intra-chr</text>
<rect x="489.00" y="427.97" width="12.80" height="109.93" fill="#7849a2"/>
<line x1="495.40" y1="537.90" x2="495.40" y2="540.30" stroke="#444" stroke-width="0.9"/>
<text x="495.40" y="547.95" font-size="5.3" text-anchor="middle" >Inter-chr</text>
</svg></body></html>
